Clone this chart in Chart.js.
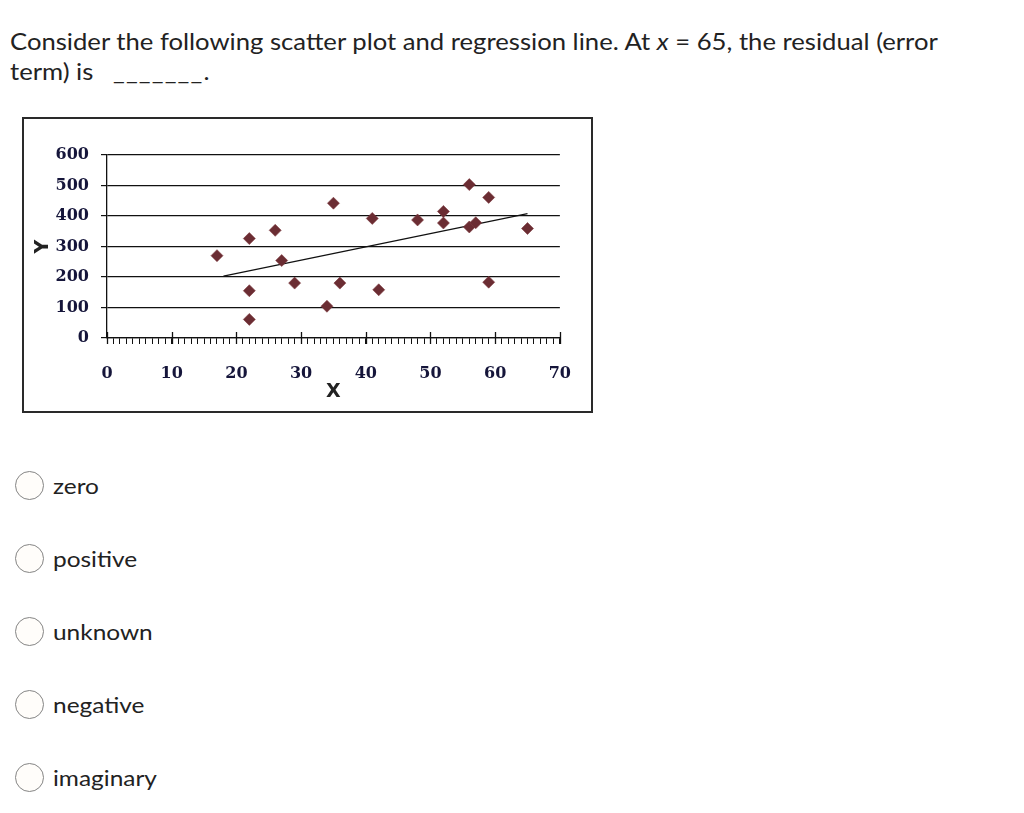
<!DOCTYPE html>
<html>
<head>
<meta charset="utf-8">
<script src="https://cdn.jsdelivr.net/npm/chart.js@4.4.1/dist/chart.umd.min.js"></script>
<style>
  body { margin: 0; background: #fff; font-family: Lato, "Noto Sans", sans-serif; color: #222; }
  .q { position: absolute; left: 10px; top: 27px; font-size: 22.5px; line-height: 30px; width: 1000px; margin: 0;
    transform: scaleX(1.14); transform-origin: 0 0; }
  .box { position: absolute; left: 22px; top: 117px; width: 567px; height: 292px; border: 2px solid #2a2a2a; background: #fff; }
  .box canvas { position: absolute; left: 0; top: 0; }
  .opt { position: absolute; left: 15px; height: 30px; font-size: 22px; line-height: 30px; }
  .opt span.r { position: absolute; left: 0; top: 0; width: 29px; height: 29px; box-sizing: border-box;
    border: 1.5px solid #858585; border-radius: 50%; background: #fffdfa; }
  .opt span.t { position: absolute; left: 38px; top: 0; white-space: nowrap; transform: scaleX(1.11); transform-origin: 0 0; }
</style>
</head>
<body>
<p class="q">Consider the following scatter plot and regression line. At <i>x</i> = 65, the residual (error<br>term) is &nbsp;&nbsp;<span style="letter-spacing:1px">_______</span>.</p>
<div class="box"><canvas id="chart" width="567" height="292"></canvas></div>
<div id="opts"></div>
<script>
// Datos del grafico
const xValues = [17, 22, 22, 22, 26, 27, 29, 34, 35, 36, 41, 42, 48, 52, 52, 56, 56, 57, 59, 59, 65];
const yValues = [270, 326, 155, 61, 353, 254, 180, 104, 442, 180, 392, 158, 387, 415, 377, 503, 364, 378, 461, 183, 359];
const lineX = [18, 65];
const lineY = [203, 408];
const xTicks = [0, 10, 20, 30, 40, 50, 60, 70];
const yTicks = [0, 100, 200, 300, 400, 500, 600];
const opciones = ['zero', 'positive', 'unknown', 'negative', 'imaginary'];

const optsEl = document.getElementById('opts');
opciones.forEach((o, i) => {
  const d = document.createElement('div');
  d.className = 'opt';
  d.style.top = (471 + i * 73) + 'px';
  d.innerHTML = '<span class="r"></span><span class="t">' + o + '</span>';
  optsEl.appendChild(d);
});

const puntos = xValues.map((x, i) => ({ x: x, y: yValues[i] }));
const recta = lineX.map((x, i) => ({ x: x, y: lineY[i] }));

// ticks mayores del eje X (cruzan el eje)
const majorTicks = {
  id: 'majorTicks',
  afterDraw(chart) {
    const sx = chart.scales.x, sy = chart.scales.y;
    const y0 = sy.getPixelForValue(0);
    const c = chart.ctx;
    c.save();
    c.strokeStyle = '#111';
    c.lineWidth = 1.3;
    xTicks.forEach(v => {
      const px = Math.round(sx.getPixelForValue(v)) + 0.5;
      c.beginPath();
      c.moveTo(px, y0 - 6);
      c.lineTo(px, y0 + 6);
      c.stroke();
    });
    c.restore();
  }
};

const tickFont = { family: '"DejaVu Serif", "Liberation Serif", serif', weight: 'bold', size: 16 };
const titleFont = { family: '"DejaVu Sans", Arial, sans-serif', weight: 'bold', size: 19 };

new Chart(document.getElementById('chart').getContext('2d'), {
  type: 'scatter',
  data: {
    datasets: [
      { data: puntos, pointStyle: 'rectRot', pointRadius: 6, backgroundColor: '#6b2d33',
        borderColor: '#7d3b40', borderWidth: 0.6, order: 1 },
      { type: 'line', data: recta, showLine: true, borderColor: '#111', borderWidth: 1.2,
        pointRadius: 0, fill: false, order: 2 }
    ]
  },
  plugins: [majorTicks],
  options: {
    responsive: false,
    animation: false,
    events: [],
    layout: { padding: { top: 36, right: 27, left: 0, bottom: 0 } },
    plugins: { legend: { display: false }, tooltip: { enabled: false } },
    scales: {
      x: {
        type: 'linear', min: 0, max: 70,
        afterFit(s) { s.height = 73; },
        border: { color: '#111', width: 1.3 },
        grid: { drawOnChartArea: false, color: '#111', tickLength: 6, lineWidth: 1 },
        ticks: {
          stepSize: 1, autoSkip: false, maxRotation: 0, padding: 20,
          color: '#15153a', font: tickFont,
          callback: v => xTicks.includes(v) ? String(v) : ''
        },
        title: { display: true, text: 'X', color: '#222', font: titleFont, padding: { top: 0, bottom: 8 } }
      },
      y: {
        type: 'linear', min: 0, max: 600,
        afterFit(s) { s.width = 83; },
        afterBuildTicks(s) { s.ticks = yTicks.map(v => ({ value: v })); },
        border: { color: '#111', width: 1.3 },
        grid: { color: '#111', tickLength: 6, lineWidth: 1.2 },
        ticks: { padding: 12, color: '#15153a', font: tickFont },
        title: { display: true, text: 'Y', color: '#222', font: titleFont, padding: { top: 8, bottom: 0 } }
      }
    }
  }
});
</script>
</body>
</html>
